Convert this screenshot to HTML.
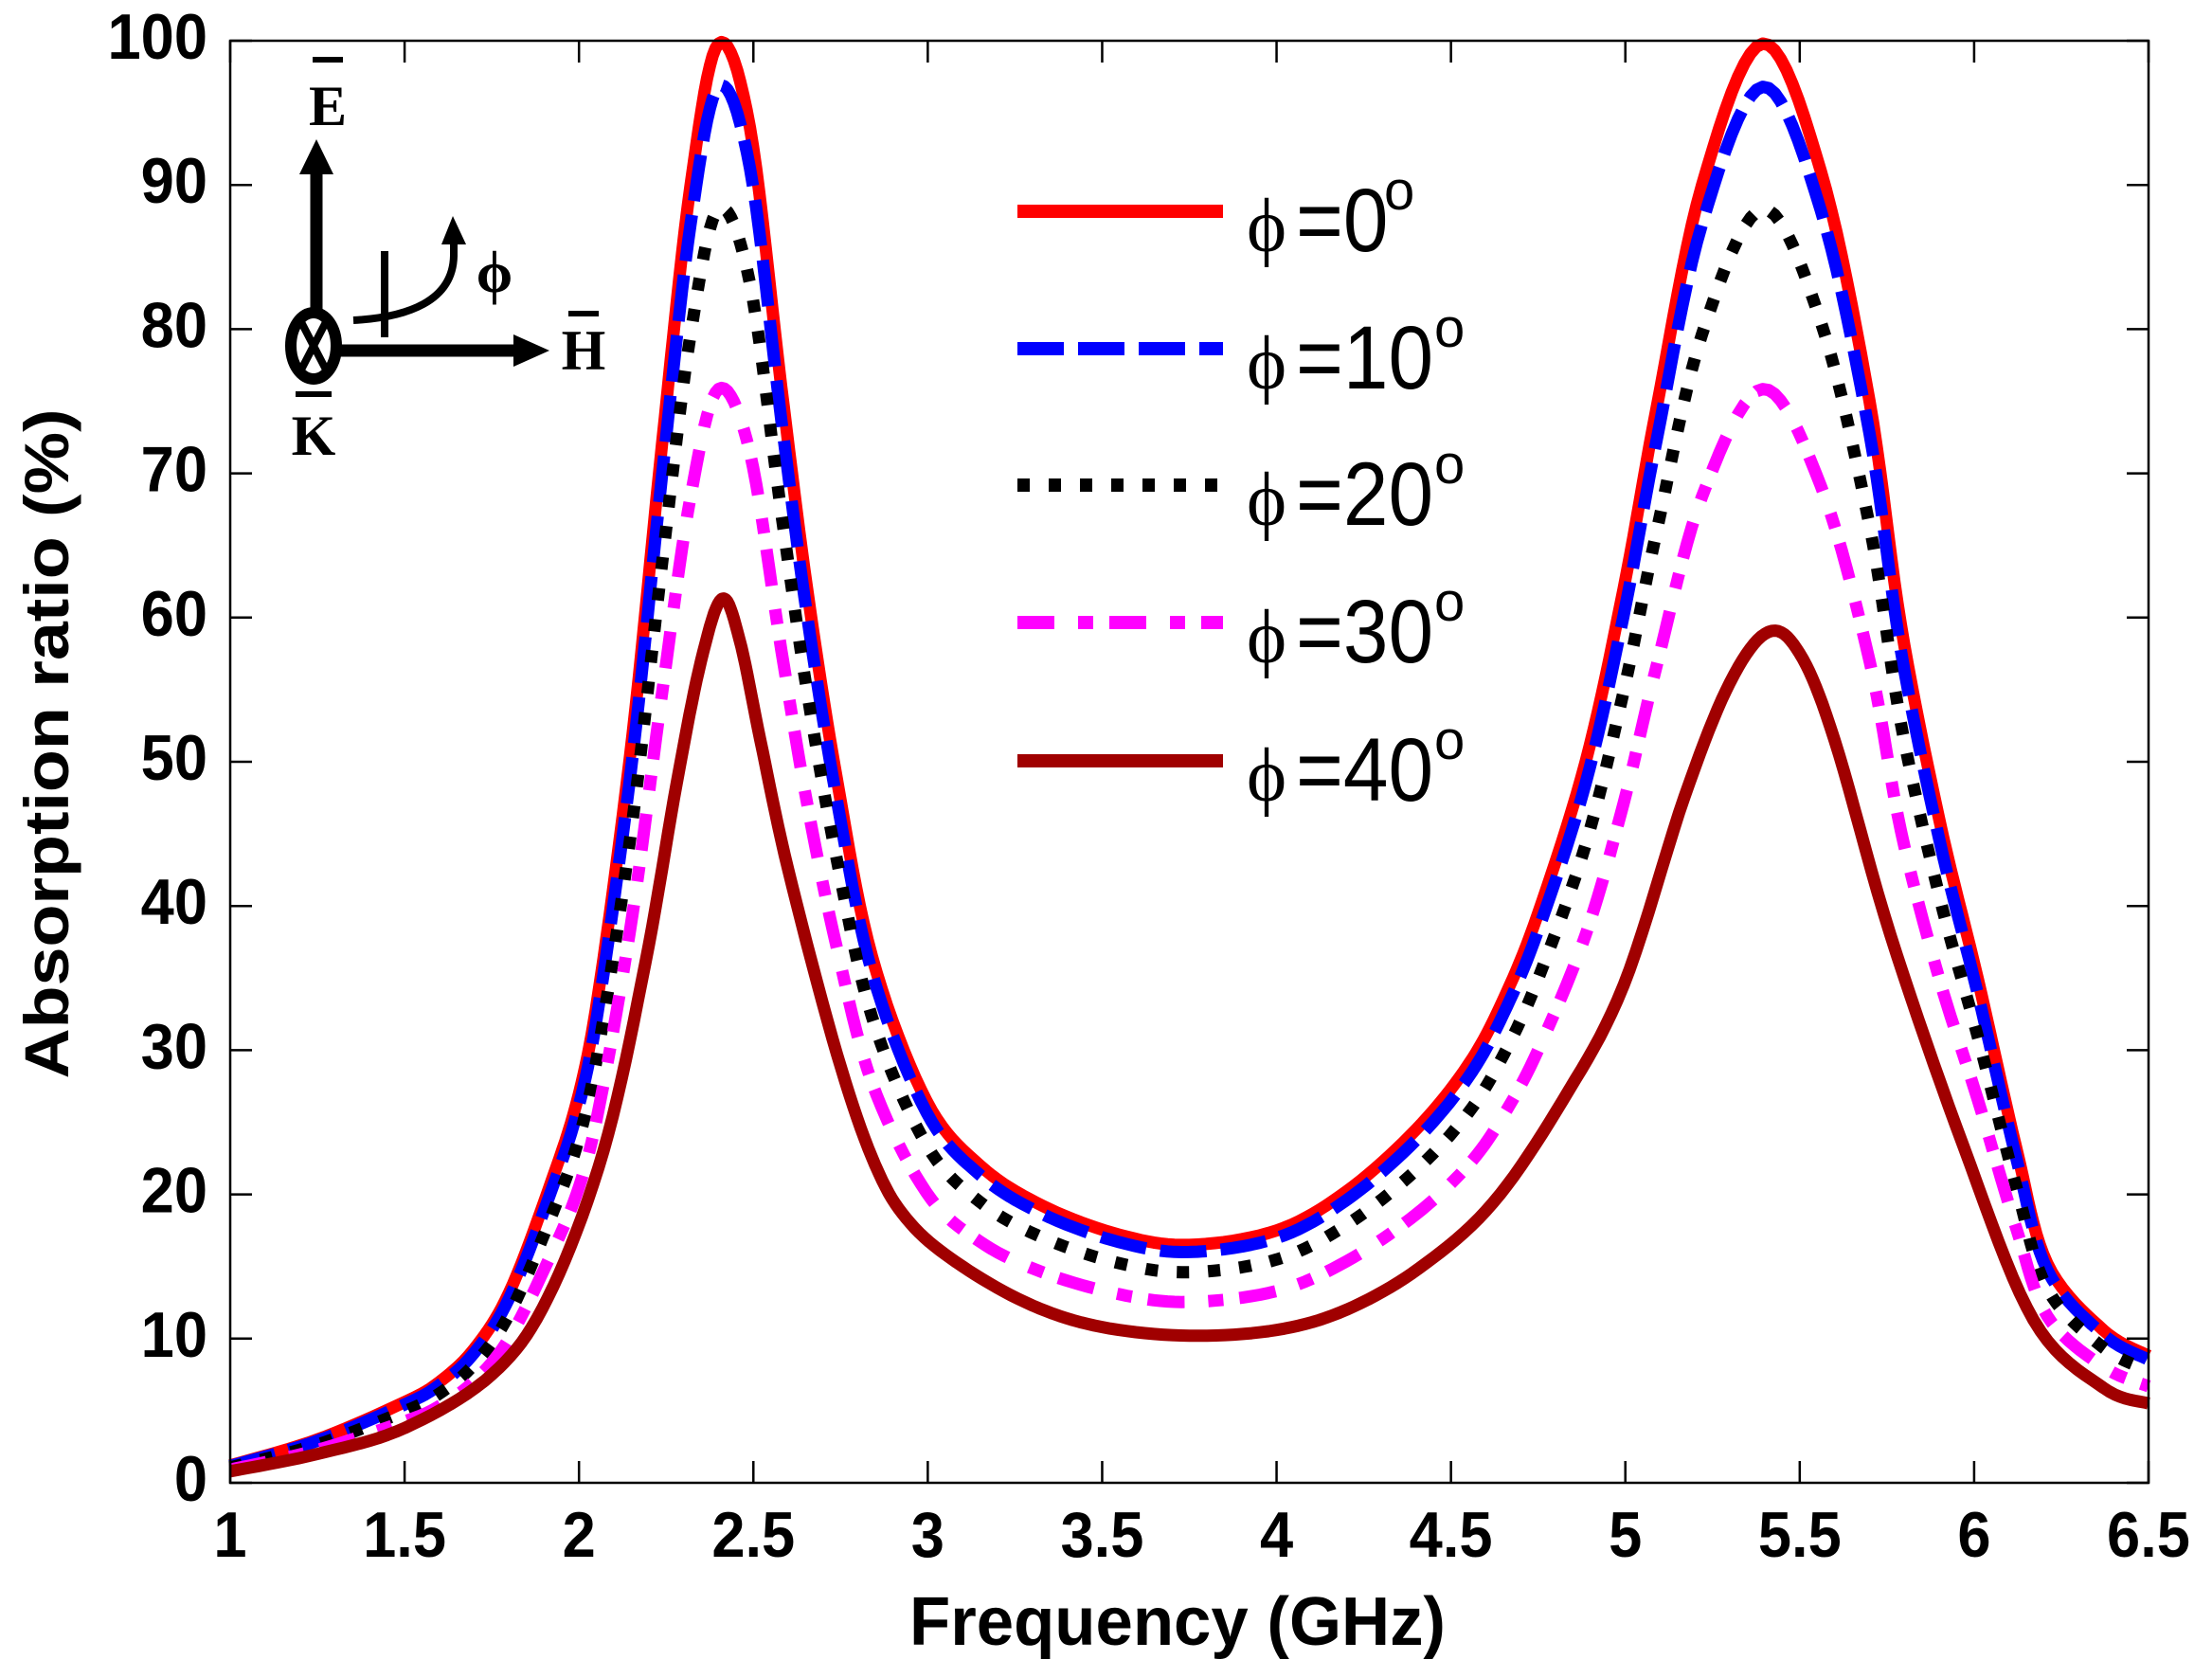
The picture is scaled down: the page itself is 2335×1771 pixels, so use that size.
<!DOCTYPE html>
<html><head><meta charset="utf-8"><style>
html,body{margin:0;padding:0;background:#fff;}
svg{display:block;}
</style></head><body>
<svg id="s" width="2335" height="1771" viewBox="0 0 2335 1771" xmlns="http://www.w3.org/2000/svg">
<rect width="2335" height="1771" fill="#fff"/>
<g id="curves"></g>
<rect x="243" y="43" width="2025" height="1522" fill="none" stroke="#000" stroke-width="2.5"/>
<g id="ticks" stroke="#000" stroke-width="2.5"></g>
<g id="labels" font-family="Liberation Sans, Arial, sans-serif" font-weight="bold" font-size="68" fill="#000"></g>
<text x="1243" y="1736" text-anchor="middle" font-family="Liberation Sans, Arial, sans-serif" font-weight="bold" font-size="72" textLength="566" lengthAdjust="spacingAndGlyphs">Frequency (GHz)</text>
<text transform="translate(72,785) rotate(-90)" text-anchor="middle" font-family="Liberation Sans, Arial, sans-serif" font-weight="bold" font-size="66" textLength="707" lengthAdjust="spacingAndGlyphs">Absorption ratio (%)</text>
<g stroke-width="14">
<line x1="1074" y1="223" x2="1291" y2="223" stroke="#ff0000"/>
<line x1="1074" y1="368" x2="1291" y2="368" stroke="#0000ff" stroke-dasharray="49,15"/>
<line x1="1074" y1="512" x2="1291" y2="512" stroke="#000" stroke-dasharray="13,20"/>
<line x1="1074" y1="657" x2="1291" y2="657" stroke="#ff00ff" stroke-dasharray="39,25,16,17"/>
<line x1="1074" y1="803" x2="1291" y2="803" stroke="#a00000"/>
</g>
<g id="leg" fill="#000"></g>
<g fill="#000" stroke="#000">
<line x1="334" y1="335" x2="334" y2="175" stroke-width="13"/>
<polygon points="334,147 316,184 352,184" stroke="none"/>
<ellipse cx="331" cy="365" rx="24" ry="35" fill="none" stroke-width="12"/>
<line x1="318" y1="340" x2="344" y2="390" stroke-width="8"/>
<line x1="344" y1="340" x2="318" y2="390" stroke-width="8"/>
<line x1="358" y1="370" x2="548" y2="370" stroke-width="13"/>
<polygon points="580,370 542,353 542,387" stroke="none"/>
<path d="M373,338 C430,335 478,318 479,270 L479,255" fill="none" stroke-width="8"/>
<polygon points="478,228 466,258 492,258" stroke="none"/>
<line x1="406" y1="265" x2="406" y2="356" stroke-width="8"/>
<line x1="330" y1="63" x2="362" y2="63" stroke-width="6"/>
<line x1="600" y1="331" x2="632" y2="331" stroke-width="6"/>
<line x1="312" y1="416" x2="350" y2="416" stroke-width="6"/>
</g>
<g font-family="Liberation Serif, Times New Roman, serif" font-weight="bold" font-size="60" fill="#000" text-anchor="middle">
<text x="346" y="132">E</text>
<text x="616" y="390">H</text>
<text x="331" y="480">K</text>
<text x="522" y="308" font-size="62">ϕ</text>
</g>
</svg>
<script>
(function(){
var NS="http://www.w3.org/2000/svg";
function X(f){return 243+(f-1)*2025/5.5;}
function Y(v){return 1565-v*15.22;}
var red=[[1.0,1.2],[1.25,3],[1.5,5.6],[1.6,7],[1.7,9.3],[1.8,13.2],[1.915,20.5],[2.0,27],[2.062,35],[2.154,52],[2.238,72],[2.32,90],[2.40,99.8],[2.49,94],[2.58,76],[2.654,62],[2.738,49],[2.84,36.5],[2.996,26.5],[3.15,22],[3.33,19.2],[3.55,17.2],[3.75,16.5],[4.0,17.5],[4.2,20.2],[4.4,24.5],[4.55,29],[4.65,33.5],[4.75,39.5],[4.886,50],[4.995,62],[5.09,74.6],[5.22,90],[5.394,99.8],[5.56,91],[5.70,75],[5.79,59.5],[5.90,46],[6.01,35],[6.12,23.3],[6.21,15.2],[6.37,10.6],[6.5,8.8]];
var dk=[[1.0,0.8],[1.25,2.0],[1.5,3.8],[1.75,7.5],[1.91,12.8],[2.07,23],[2.19,36],[2.28,48.5],[2.35,57],[2.41,61.3],[2.46,58.5],[2.52,51.5],[2.60,42.5],[2.74,29.7],[2.85,22],[2.95,18],[3.1,15],[3.3,12.3],[3.5,10.8],[3.75,10.2],[4.0,10.6],[4.2,12],[4.41,14.9],[4.62,19.4],[4.82,26.5],[4.995,34.5],[5.17,47.6],[5.3,55.5],[5.41,59],[5.5,57.5],[5.60,51.5],[5.76,38],[5.97,23.3],[6.17,11.3],[6.37,6.6],[6.5,5.5]];
function path(pts,k){
 var d="";
 for(var i=0;i<pts.length-1;i++){
  var p0=pts[Math.max(i-1,0)],p1=pts[i],p2=pts[i+1],p3=pts[Math.min(i+2,pts.length-1)];
  for(var t=0;t<1;t+=0.1){
   var t2=t*t,t3=t2*t;
   var f=0.5*((2*p1[0])+(-p0[0]+p2[0])*t+(2*p0[0]-5*p1[0]+4*p2[0]-p3[0])*t2+(-p0[0]+3*p1[0]-3*p2[0]+p3[0])*t3);
   var v=0.5*((2*p1[1])+(-p0[1]+p2[1])*t+(2*p0[1]-5*p1[1]+4*p2[1]-p3[1])*t2+(-p0[1]+3*p1[1]-3*p2[1]+p3[1])*t3);
   d+=(d?"L":"M")+X(f).toFixed(1)+","+Y(v*k).toFixed(1);
  }
 }
 var l=pts[pts.length-1];d+="L"+X(l[0]).toFixed(1)+","+Y(l[1]*k).toFixed(1);
 return d;
}
var g=document.getElementById("curves");
var series=[[red,1,"#ff0000",""],[red,0.97,"#0000ff","49,15"],[red,0.885,"#000","13,20"],[red,0.76,"#ff00ff","39,25,16,17"],[dk,1,"#a00000",""]];
series.forEach(function(s){
 var p=document.createElementNS(NS,"path");
 p.setAttribute("d",path(s[0],s[1]));p.setAttribute("fill","none");
 p.setAttribute("stroke",s[2]);p.setAttribute("stroke-width","13");
 p.setAttribute("stroke-linejoin","round");
 if(s[3])p.setAttribute("stroke-dasharray",s[3]);
 g.appendChild(p);
});
var tk=document.getElementById("ticks"),lb=document.getElementById("labels");
function line(x1,y1,x2,y2){var l=document.createElementNS(NS,"line");l.setAttribute("x1",x1);l.setAttribute("y1",y1);l.setAttribute("x2",x2);l.setAttribute("y2",y2);tk.appendChild(l);}
function txt(x,y,s,anchor){var t=document.createElementNS(NS,"text");t.setAttribute("transform","translate("+x+","+y+") scale(0.93,1)");t.setAttribute("text-anchor",anchor);t.textContent=s;lb.appendChild(t);}
var xl=["1","1.5","2","2.5","3","3.5","4","4.5","5","5.5","6","6.5"];
for(var i=0;i<12;i++){var f=1+i*0.5,x=X(f);line(x,1565,x,1542);line(x,43,x,66);txt(x,1643,xl[i],"middle");}
for(var v=0;v<=100;v+=10){var y=Y(v);line(243,y,266,y);line(2268,y,2245,y);txt(219,y+19,String(v),"end");}
var leg=document.getElementById("leg");
var ys=[223,368,512,657,803],nums=["0","10","20","30","40"];
ys.forEach(function(y,i){
 var b=y+42;
 var t=document.createElementNS(NS,"text");t.setAttribute("x",1316);t.setAttribute("y",b);
 t.setAttribute("font-family","Liberation Serif, Times New Roman, serif");t.setAttribute("font-size","80");t.textContent="ϕ";leg.appendChild(t);
 var t2=document.createElementNS(NS,"text");t2.setAttribute("transform","translate(1368,"+b+") scale(0.9,1)");
 t2.setAttribute("font-family","Liberation Sans, Arial, sans-serif");t2.setAttribute("font-size","95");
 t2.textContent="="+nums[i];leg.appendChild(t2);
 var w=(nums[i].length===1)?1461:1514;
 var t3=document.createElementNS(NS,"text");t3.setAttribute("x",w);t3.setAttribute("y",b-44);
 t3.setAttribute("font-family","Liberation Sans, Arial, sans-serif");t3.setAttribute("font-size","58");
 t3.textContent="o";leg.appendChild(t3);
});
})();
</script>
</body></html>
